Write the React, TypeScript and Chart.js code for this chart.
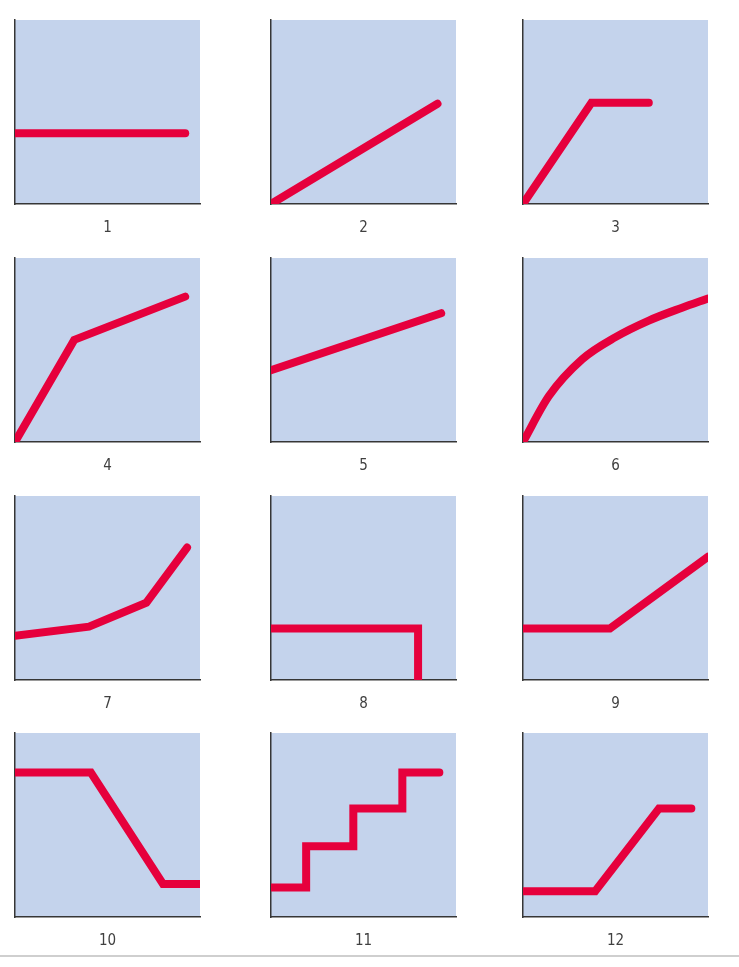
import { useEffect, useRef } from 'react';
import { Chart, ChartConfiguration, Plugin } from 'chart.js/auto';

// panel labels, read left to right, top to bottom
const labels = ['1', '2', '3', '4', '5', '6', '7', '8', '9', '10', '11', '12'];

// each panel uses a 0..10 scale on both axes
const x1 = [0, 9.2];
const y1 = [3.85, 3.85];
const x2 = [0, 9.0];
const y2 = [0, 5.45];
const x3 = [0, 3.7, 6.8];
const y3 = [0, 5.5, 5.5];
const x4 = [0, 3.2, 9.2];
const y4 = [0, 5.55, 7.9];
const x5 = [0, 9.2];
const y5 = [3.9, 7.0];
const x6 = [0, 1.4, 3.2, 5.0, 6.8, 8.6, 10];
const y6 = [0, 2.5, 4.5, 5.7, 6.6, 7.3, 7.8];
const x7 = [0, 4.0, 7.1, 9.3];
const y7 = [2.4, 2.9, 4.2, 7.2];
const x8 = [0, 7.95, 7.95];
const y8 = [2.8, 2.8, 0];
const x9 = [0, 4.7, 10];
const y9 = [2.8, 2.8, 6.7];
const x10 = [0, 4.1, 8.0, 10];
const y10 = [7.85, 7.85, 1.8, 1.8];
const x11 = [0, 1.9, 1.9, 4.45, 4.45, 7.1, 7.1, 9.1];
const y11 = [1.6, 1.6, 3.85, 3.85, 5.9, 5.9, 7.85, 7.85];
const x12 = [0, 3.9, 7.35, 9.1];
const y12 = [1.4, 1.4, 5.9, 5.9];

const seriesX = [x1, x2, x3, x4, x5, x6, x7, x8, x9, x10, x11, x12];
const seriesY = [y1, y2, y3, y4, y5, y6, y7, y8, y9, y10, y11, y12];

const colLeft = [15, 271, 523];
const rowTop = [20, 258, 496, 733];
const panelW = 185;
const panelH = 184;
const pad = 2;
const axisH = 34;

const bgFill: Plugin = {
  id: 'bgFill',
  beforeDraw(chart) {
    const { ctx, chartArea } = chart;
    ctx.save();
    ctx.fillStyle = '#c4d3ec';
    ctx.fillRect(chartArea.left, chartArea.top, chartArea.right - chartArea.left, chartArea.bottom - chartArea.top);
    ctx.restore();
  },
};

function Panel({ index }: { index: number }) {
  const canvasRef = useRef<HTMLCanvasElement>(null);
  const chartInstance = useRef<Chart | null>(null);

  useEffect(() => {
    if (!canvasRef.current) return;
    if (chartInstance.current) chartInstance.current.destroy();

    const xs = seriesX[index];
    const ys = seriesY[index];
    const curved = index === 5;

    const config: ChartConfiguration<'scatter'> = {
      type: 'scatter',
      data: {
        datasets: [
          {
            data: xs.map((x, i) => ({ x, y: ys[i] })),
            showLine: true,
            borderColor: '#e6003c',
            borderWidth: 8,
            borderCapStyle: 'round',
            borderJoinStyle: 'miter',
            tension: curved ? 0.4 : 0,
            cubicInterpolationMode: curved ? 'monotone' : 'default',
            pointRadius: 0,
            clip: 0,
          },
        ],
      },
      options: {
        animation: false,
        responsive: true,
        maintainAspectRatio: false,
        layout: { padding: { left: pad, right: pad, top: pad, bottom: 0 } },
        plugins: { legend: { display: false }, tooltip: { enabled: false } },
        scales: {
          x: {
            type: 'linear',
            min: 0,
            max: 10,
            grid: { display: false, drawTicks: false },
            ticks: { display: false },
            border: { display: true, color: '#363636', width: 1.5 },
            title: {
              display: true,
              text: labels[index],
              color: '#404040',
              font: { family: '"Liberation Sans Narrow", "DejaVu Sans Condensed", sans-serif', size: 15, lineHeight: 1 },
              padding: { top: 17, bottom: 2 },
            },
          },
          y: {
            type: 'linear',
            min: 0,
            max: 10,
            grid: { display: false, drawTicks: false },
            ticks: { display: false },
            border: { display: true, color: '#363636', width: 1.5 },
          },
        },
      },
      plugins: [bgFill],
    };

    chartInstance.current = new Chart(canvasRef.current, config);
    return () => {
      if (chartInstance.current) {
        chartInstance.current.destroy();
        chartInstance.current = null;
      }
    };
  }, [index]);

  const left = colLeft[index % 3] - pad;
  const top = rowTop[Math.floor(index / 3)] - pad;
  return (
    <div style={{ position: 'absolute', left, top, width: panelW + pad * 2, height: panelH + pad + axisH }}>
      <canvas ref={canvasRef}></canvas>
    </div>
  );
}

export default function App() {
  return (
    <div style={{ position: 'absolute', left: 0, top: 0, width: 739, height: 967, background: '#fff', overflow: 'hidden' }}>
      {labels.map((_, i) => (
        <Panel key={i} index={i} />
      ))}
      <div style={{ position: 'absolute', left: 0, top: 955, width: 739, height: 2, background: '#cfcfcf' }}></div>
    </div>
  );
}
